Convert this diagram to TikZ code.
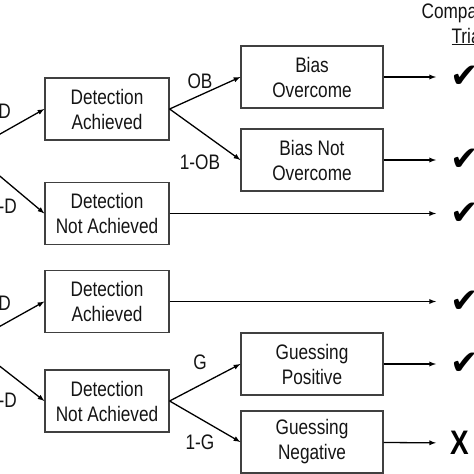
\documentclass[tikz,border=0pt]{standalone}
\usepackage{fontspec}
\setmainfont{Liberation Sans}[FakeStretch=0.82]
\newfontfamily\symfont{DejaVu Sans}

\begin{document}
\begin{tikzpicture}[x=1pt,y=-1pt,every node/.style={font=\fontsize{21}{25}\selectfont,text=black!92}]
  \tikzstyle{stage}=[draw=black!75,line width=1.2pt,minimum width=124pt,minimum
  height=62pt,align=center,inner sep=0pt]
  \tikzstyle{result}=[stage,minimum width=142pt]
  \tikzstyle{tick}=[anchor=west,inner xsep=14pt,inner ysep=0pt,font=\symfont\fontsize{34}{34}\selectfont,text=black]
  \tikzstyle{branch}=[draw,line width=1.3pt,-latex]
  \clip (0,0) rectangle (474,474);
  % heading, cut at the right
  \node[align=center](head) at (468,24){Comparison\\\underline{Trial}};
  % roots (off the left edge)
  \coordinate(R1) at (-30,151);
  \coordinate(R2) at (-30,343);
  \node[stage](DA1) at (107,109){Detection\\Achieved};
  \node[stage](DN1) at (107,213.5){Detection\\Not Achieved};
  \node[stage](DA2) at (107,301.5){Detection\\Achieved};
  \node[stage](DN2) at (107,401){Detection\\Not Achieved};
  \node[result](BO) at (312,77){Bias\\Overcome};
  \node[result](BN) at (312,160){Bias Not\\Overcome};
  \node[result](GP) at (312,364){Guessing\\Positive};
  \node[result](GN) at (312,442){Guessing\\Negative};
  \node[tick](T1) at (436,77){✔};
  \node[tick](T2) at (436,160){✔};
  \node[tick](T3) at (436,213.5){✔};
  \node[tick](T4) at (436,301.5){✔};
  \node[tick](T5) at (436,364){✔};
  \node[tick,font=\bfseries\fontsize{34}{34}\selectfont](T6) at (436,443){X};
  % branch labels
  \node[anchor=east,inner sep=0pt](pD1) at (11,111.5){D};
  \node[anchor=east,inner sep=0pt](qD1) at (17,206){1-D};
  \node[anchor=east,inner sep=0pt](pD2) at (11,303){D};
  \node[anchor=east,inner sep=0pt](qD2) at (17,400){1-D};
  \node(pOB) at (200,81){OB};
  \node(qOB) at (200,162){1-OB};
  \node(pG) at (200,362){G};
  \node(qG) at (200,442){1-G};
  \path[branch] (R1) -- (DA1.west);
  \path[branch] (R1) -- (DN1.west);
  \path[branch] (R2) -- (DA2.west);
  \path[branch] (R2) -- (DN2.west);
  \path[branch] (DA1.east) -- (BO.west);
  \path[branch] (DA1.east) -- (BN.west);
  \path[branch] (DN2.east) -- (GP.west);
  \path[branch] (DN2.east) -- (GN.west);
  \path[branch] (BO) -- (T1);
  \path[branch] (BN) -- (T2);
  \path[branch] (DN1) -- (T3);
  \path[branch] (DA2) -- (T4);
  \path[branch] (GP) -- (T5);
  \path[branch] (GN) -- (T6);
\end{tikzpicture}
\end{document}
